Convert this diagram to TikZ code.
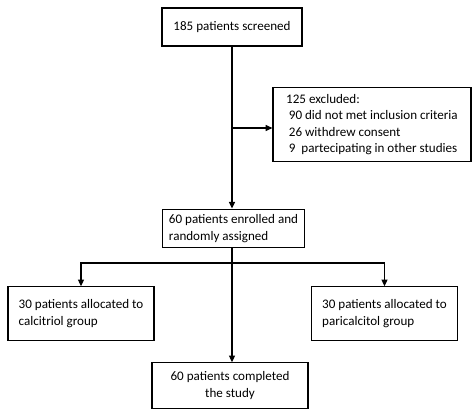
\documentclass[tikz,border=0pt]{standalone}
\usepackage{fontspec}
\setmainfont{Carlito}
\usetikzlibrary{arrows.meta}

\begin{document}
\begin{tikzpicture}[x=0.75pt, y=-0.75pt,
  every node/.style={font=\fontsize{9.8}{12.2}\selectfont},
  box/.style={draw, line width=0.9pt, inner sep=2pt, align=left},
  flow/.style={line width=0.9pt, -{Triangle[length=5pt,width=4.5pt]}}]
  \useasboundingbox (0,0) rectangle (474,412);
  % Screening
  \node[box, minimum width=105pt, minimum height=28.5pt] (screen) at (232,27) {185 patients screened};
  % Exclusions
  \node[box, minimum width=148.5pt, minimum height=55pt] (excl) at (372,124.5)
    {125 excluded:\\
     \hspace{2pt}90 did not met inclusion criteria\\
     \hspace{2pt}26 withdrew consent\\
     \hspace{2pt}9\ \ partecipating in other studies};
  % Enrolment
  \node[box, minimum width=106pt, minimum height=29pt] (enrolled) at (233.5,228.5)
    {60 patients enrolled and\\randomly assigned};
  % Allocation
  \node[box, minimum width=109.5pt, minimum height=40pt] (calcitriol) at (81,313.5)
    {30 patients allocated to\\calcitriol group};
  \node[box, minimum width=110pt, minimum height=40pt] (paricalcitol) at (384.5,313.5)
    {30 patients allocated to\\paricalcitol group};
  % Completion
  \node[box, minimum width=117pt, minimum height=34pt, align=center] (completed) at (230,385.5)
    {60 patients completed\\the study};
  % Connectors
  \coordinate (excljoin) at (232,128);
  \coordinate (split) at (232,263);
  \draw[flow] (screen.south) -- (screen.south |- enrolled.north);
  \draw[flow] (excljoin) -- (excl.west |- excljoin);
  \draw[flow] (split) -| (calcitriol.north);
  \draw[flow] (split) -| (paricalcitol.north);
  \draw[flow] (split |- enrolled.south) -- (split |- completed.north);
\end{tikzpicture}
\end{document}
